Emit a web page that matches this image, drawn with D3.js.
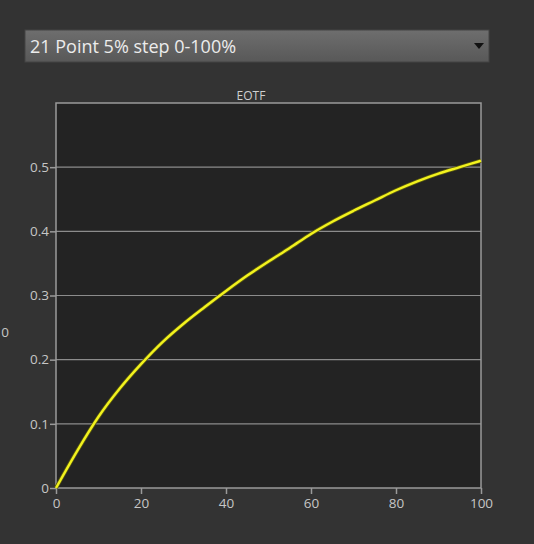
<!DOCTYPE html>
<html>
<head>
<meta charset="utf-8">
<script src="https://cdn.jsdelivr.net/npm/d3@7"></script>
<style>
  body { margin: 0; background: #333333; }
  svg { display: block; font-family: "Open Sans", "Noto Sans", sans-serif; }
</style>
</head>
<body>
<div id="container"></div>
<script>
// Chart data
var stimulus = [0, 5, 10, 15, 20, 25, 30, 35, 40, 45, 50, 55, 60, 65, 70, 75, 80, 85, 90, 95, 100];
var eotf = [0, 0.058, 0.111, 0.155, 0.193, 0.227, 0.256, 0.282, 0.307, 0.331, 0.353,
  0.374, 0.396, 0.415, 0.432, 0.448, 0.464, 0.478, 0.490, 0.500, 0.510];
var xTicks = [0, 20, 40, 60, 80, 100];
var yTicks = [0, 0.1, 0.2, 0.3, 0.4, 0.5];
var presetLabel = '21 Point 5% step 0-100%';
var chartTitle = 'EOTF';

var width = 534,
height = 544;

var svg = d3.select('#container').append('svg').attr('width', width).attr('height', height);

// Dropdown box at the top
var grad = svg.append('defs').append('linearGradient').attr('id', 'dd').attr('x1', 0).attr('y1', 0).attr('x2', 0).attr('y2', 1);
grad.append('stop').attr('offset', '0%').attr('stop-color', '#6e6e6e');
grad.append('stop').attr('offset', '100%').attr('stop-color', '#585858');

svg.append('rect').attr('x', 25).attr('y', 30).attr('width', 464).attr('height', 32)
  .attr('fill', 'url(#dd)').attr('stroke', '#444').attr('stroke-width', 1);
svg.append('text').attr('x', 30).attr('y', 53).attr('fill', '#ececec')
  .style('font-size', '18px').text(presetLabel);
svg.append('path').attr('d', 'M474,43 L484,43 L479,49 Z').attr('fill', '#111');

// Scales
var x = d3.scaleLinear().domain([0, 100]).range([56, 481]);
var y = d3.scaleLinear().domain([0, 0.6]).range([488, 103]);

// Plot area
svg.append('rect').attr('x', x(0)).attr('y', y(0.6)).attr('width', x(100) - x(0)).attr('height', y(0) - y(0.6))
  .attr('fill', '#232323');

// Horizontal grid lines
svg.append('g').selectAll('line').data(yTicks.slice(1)).enter().append('line')
  .attr('x1', x(0)).attr('x2', x(100))
  .attr('y1', d => y(d)).attr('y2', d => y(d))
  .attr('stroke', '#8c8c8c').attr('stroke-width', 1.2);

// Frame
svg.append('rect').attr('x', x(0)).attr('y', y(0.6)).attr('width', x(100) - x(0)).attr('height', y(0) - y(0.6))
  .attr('fill', 'none').attr('stroke', '#9a9a9a').attr('stroke-width', 1.5);

// Axes
var xAxis = d3.axisBottom(x).tickValues(xTicks).tickSize(6).tickPadding(4).tickFormat(d3.format('d'));
var yAxis = d3.axisLeft(y).tickValues(yTicks).tickSize(6).tickPadding(1).tickFormat(d => d === 0 ? '0' : d3.format('.1f')(d));

svg.append('g').attr('transform', 'translate(0,' + y(0) + ')').call(xAxis)
  .call(g => g.select('.domain').remove())
  .call(g => g.selectAll('line').attr('stroke', '#9a9a9a').attr('stroke-width', 1.5))
  .call(g => g.selectAll('text').attr('fill', '#c6c6c6').style('font-size', '13.5px').style('font-family', '"Open Sans", sans-serif'));

svg.append('g').attr('transform', 'translate(' + x(0) + ',0)').call(yAxis)
  .call(g => g.select('.domain').remove())
  .call(g => g.selectAll('line').attr('stroke', '#9a9a9a').attr('stroke-width', 1.5))
  .call(g => g.selectAll('text').attr('fill', '#c6c6c6').style('font-size', '13.5px').style('font-family', '"Open Sans", sans-serif'));

// Title
svg.append('text').attr('x', 251).attr('y', 100).attr('text-anchor', 'middle')
  .attr('fill', '#cfcfcf').style('font-size', '12px').text(chartTitle);

// Cut-off axis label remnant on the left edge
svg.append('text').attr('x', 9).attr('y', 337).attr('text-anchor', 'end')
  .attr('fill', '#c6c6c6').style('font-size', '13.5px').text('0');

// EOTF curve
var line = d3.line().x((d, i) => x(stimulus[i])).y(d => y(d)).curve(d3.curveMonotoneX);
svg.append('path').datum(eotf).attr('d', line)
  .attr('fill', 'none').attr('stroke', '#5a5a10').attr('stroke-width', 4).attr('stroke-linejoin', 'round');
svg.append('path').datum(eotf).attr('d', line)
  .attr('fill', 'none').attr('stroke', '#f2f21e').attr('stroke-width', 2.4).attr('stroke-linejoin', 'round');
</script>
</body>
</html>
